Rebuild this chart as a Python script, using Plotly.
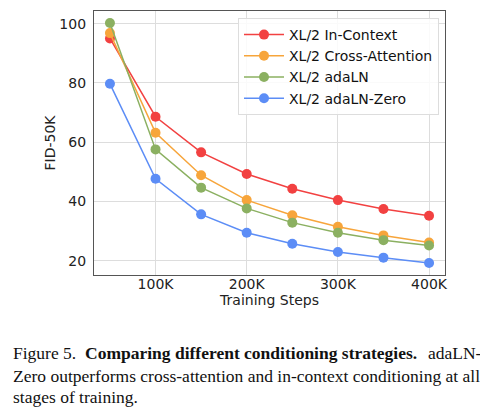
import plotly.graph_objects as go

# training steps and FID-50K
steps = [50000, 100000, 150000, 200000, 250000, 300000, 350000, 400000]
in_context = [95.0, 68.6, 56.6, 49.3, 44.3, 40.5, 37.5, 35.2]
cross_attn = [96.8, 63.2, 48.9, 40.5, 35.4, 31.5, 28.6, 26.2]
adaln = [100.2, 57.6, 44.7, 37.7, 32.9, 29.5, 27.0, 25.2]
adaln_zero = [79.7, 47.7, 35.7, 29.5, 25.8, 23.0, 21.1, 19.3]

series_names = ["XL/2 In-Context", "XL/2 Cross-Attention", "XL/2 adaLN", "XL/2 adaLN-Zero"]
series_vals = [in_context, cross_attn, adaln, adaln_zero]
colors = ["#F24141", "#F7A53B", "#8BB061", "#5C8DF6"]

x_tickvals = [100000, 200000, 300000, 400000]
x_ticktext = ["100K", "200K", "300K", "400K"]
y_tickvals = [20, 40, 60, 80, 100]

# page body has an 8px margin, so the figure is drawn 8px smaller and shifted
OFF = 8
W, H = 488 - OFF, 407 - OFF
L, R, T, B = 94 - OFF, 445 - OFF, 11 - OFF, 275 - OFF  # plot area in pixels


def px(x):
    return (x - OFF - L) / (R - L)


def py(y):
    return (B - (y - OFF)) / (B - T)


fig = go.Figure()
for name, vals, c in zip(series_names, series_vals, colors):
    fig.add_trace(go.Scatter(
        x=steps, y=vals, name=name, mode="lines+markers",
        line=dict(color=c, width=1.5),
        marker=dict(color=c, size=10),
    ))

axis_font = dict(family="DejaVu Sans", size=14, color="#222")
fig.update_xaxes(
    range=[32500, 417500], tickvals=x_tickvals, ticktext=x_ticktext,
    showgrid=True, gridcolor="#DDDDDD", gridwidth=1,
    showline=True, linecolor="#555", linewidth=1.2, mirror=True,
    ticks="", ticklabelstandoff=-4,
    tickfont=axis_font, zeroline=False,
    title=dict(text="Training Steps", font=axis_font, standoff=3),
)
fig.update_yaxes(
    range=[15.25, 104.25], tickvals=y_tickvals,
    showgrid=True, gridcolor="#DDDDDD", gridwidth=1,
    showline=True, linecolor="#555", linewidth=1.2, mirror=True,
    ticks="", ticklabelstandoff=4,
    tickfont=axis_font, zeroline=False,
    title=dict(text="FID-50K", font=axis_font, standoff=0),
)

cap_font = dict(family="Liberation Serif", size=17.5, color="#111")
# (x, y, anchor, text) -- first line is justified, so it is placed in pieces
caption = [
    (11, 353, "left", "Figure 5."),
    (83, 353, "left", "<b>Comparing different conditioning strategies.</b>"),
    (484, 353, "right", "adaLN-"),
    (11, 376, "left", "Zero outperforms cross-attention and in-context conditioning at all"),
    (11, 397, "left", "stages of training."),
]
for xx, yy, anchor, txt in caption:
    fig.add_annotation(
        x=px(xx), y=py(yy), xref="paper", yref="paper",
        xanchor=anchor, yanchor="middle", showarrow=False,
        text=txt, font=cap_font, align=anchor,
    )

fig.update_layout(
    width=W, height=H,
    margin=dict(l=L, r=W - R, t=T, b=H - B),
    paper_bgcolor="white", plot_bgcolor="white",
    font=axis_font,
    legend=dict(
        x=px(439), y=py(18), xanchor="right", yanchor="top",
        bgcolor="rgba(255,255,255,0.85)", bordercolor="#DDDDDD", borderwidth=1,
        font=dict(family="DejaVu Sans", size=14, color="#111"),
        itemwidth=40,
    ),
)

fig.write_html("out.html")
